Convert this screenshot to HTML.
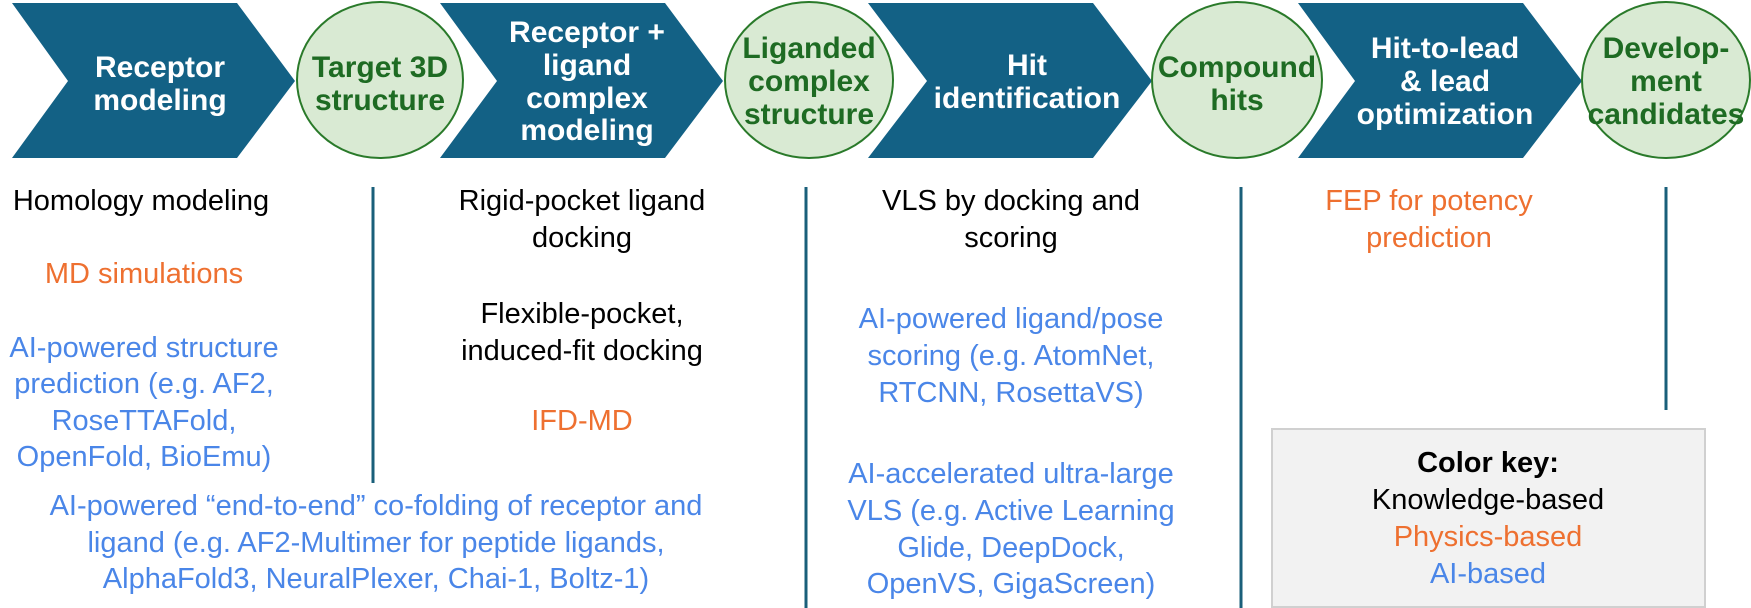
<!DOCTYPE html>
<html><head><meta charset="utf-8"><style>
html,body{margin:0;padding:0;background:#fff;}
svg{display:block;font-family:"Liberation Sans",Arial,sans-serif;}
.w{fill:#fff;font-weight:bold;font-size:30px;text-anchor:middle;}
.g{fill:#1e6b23;font-weight:bold;font-size:30px;text-anchor:middle;}
.t{font-size:29px;text-anchor:middle;}
.k{fill:#000;}.o{fill:#ee7030;}.b{fill:#4a86e8;}
</style></head><body>
<svg width="1751" height="608" viewBox="0 0 1751 608">
<g fill="#136185">
<polygon points="12,3 237,3 295,81 237,158 12,158 68,81"/>
<polygon points="440,3 665,3 723,81 665,158 440,158 497,81"/>
<polygon points="868,3 1093,3 1152,81 1093,158 868,158 927,81"/>
<polygon points="1298,3 1523,3 1582,81 1523,158 1298,158 1355,81"/>
</g>
<g fill="#d9ead3" stroke="#2a7a2a" stroke-width="2">
<ellipse cx="380" cy="80" rx="83" ry="78"/>
<ellipse cx="809" cy="80" rx="84" ry="78"/>
<ellipse cx="1237" cy="80" rx="85" ry="78"/>
<ellipse cx="1666" cy="80" rx="84" ry="78"/>
</g>
<text class="w" x="160" y="77">Receptor</text><text class="w" x="160" y="110">modeling</text>
<text class="w" x="587" y="42">Receptor +</text><text class="w" x="587" y="75">ligand</text><text class="w" x="587" y="108">complex</text><text class="w" x="587" y="140">modeling</text>
<text class="w" x="1027" y="75">Hit</text><text class="w" x="1027" y="108">identification</text>
<text class="w" x="1445" y="58">Hit-to-lead</text><text class="w" x="1445" y="91">&amp; lead</text><text class="w" x="1445" y="124">optimization</text>
<text class="g" x="380" y="77">Target 3D</text><text class="g" x="380" y="110">structure</text>
<text class="g" x="809" y="58">Liganded</text><text class="g" x="809" y="91">complex</text><text class="g" x="809" y="124">structure</text>
<text class="g" x="1237" y="77">Compound</text><text class="g" x="1237" y="110">hits</text>
<text class="g" x="1666" y="58">Develop-</text><text class="g" x="1666" y="91">ment</text><text class="g" x="1666" y="124">candidates</text>
<g stroke="#1a5f7a" stroke-width="3">
<line x1="373" y1="187" x2="373" y2="483"/>
<line x1="806" y1="187" x2="806" y2="608"/>
<line x1="1241" y1="187" x2="1241" y2="608"/>
<line x1="1666" y1="187" x2="1666" y2="410"/>
</g>
<rect x="1272" y="429" width="433" height="178" fill="#f2f2f2" stroke="#d0d0d0" stroke-width="2"/>
<g class="t">
<text class="t k" x="141" y="210">Homology modeling</text>
<text class="t o" x="144" y="283">MD simulations</text>
<text class="t b" x="144" y="357">AI-powered structure</text>
<text class="t b" x="144" y="393">prediction (e.g. AF2,</text>
<text class="t b" x="144" y="430">RoseTTAFold,</text>
<text class="t b" x="144" y="466">OpenFold, BioEmu)</text>
<text class="t k" x="582" y="210">Rigid-pocket ligand</text>
<text class="t k" x="582" y="247">docking</text>
<text class="t k" x="582" y="323">Flexible-pocket,</text>
<text class="t k" x="582" y="360">induced-fit docking</text>
<text class="t o" x="582" y="430">IFD-MD</text>
<text class="t b" x="376" y="515">AI-powered “end-to-end” co-folding of receptor and</text>
<text class="t b" x="376" y="552">ligand (e.g. AF2-Multimer for peptide ligands,</text>
<text class="t b" x="376" y="588">AlphaFold3, NeuralPlexer, Chai-1, Boltz-1)</text>
<text class="t k" x="1011" y="210">VLS by docking and</text>
<text class="t k" x="1011" y="247">scoring</text>
<text class="t b" x="1011" y="328">AI-powered ligand/pose</text>
<text class="t b" x="1011" y="365">scoring (e.g. AtomNet,</text>
<text class="t b" x="1011" y="402">RTCNN, RosettaVS)</text>
<text class="t b" x="1011" y="483">AI-accelerated ultra-large</text>
<text class="t b" x="1011" y="520">VLS (e.g. Active Learning</text>
<text class="t b" x="1011" y="557">Glide, DeepDock,</text>
<text class="t b" x="1011" y="593">OpenVS, GigaScreen)</text>
<text class="t o" x="1429" y="210">FEP for potency</text>
<text class="t o" x="1429" y="247">prediction</text>
<text class="t k" x="1488" y="472" font-weight="bold">Color key:</text>
<text class="t k" x="1488" y="509">Knowledge-based</text>
<text class="t o" x="1488" y="546">Physics-based</text>
<text class="t b" x="1488" y="583">AI-based</text>
</g>
</svg>
</body></html>
